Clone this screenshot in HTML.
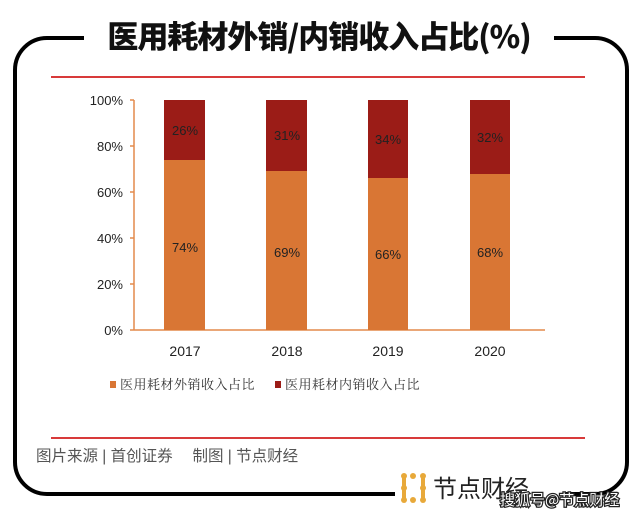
<!DOCTYPE html>
<html><head><meta charset="utf-8"><style>
body{margin:0;width:640px;height:515px;background:#fff;position:relative;overflow:hidden;font-family:"Liberation Sans","Noto Sans CJK SC",sans-serif}
.frame{position:absolute;left:13px;top:36px;width:608px;height:452px;border:4px solid #000;border-radius:34px;box-sizing:content-box}
.t{position:absolute;left:84px;top:10px;width:470px;height:50px;background:#fff;text-align:center;font-weight:900;font-size:31px;line-height:50px;color:#111;letter-spacing:-1px;font-family:"Noto Sans CJK SC",sans-serif}
.rl{position:absolute;left:51px;width:534px;height:2px;background:#d83a3a}
.gap{position:absolute;left:395px;top:465px;width:170px;height:50px;background:#fff}
</style></head><body>
<div class="frame"></div>
<div class="t">医用耗材外销/内销收入占比(%)</div>
<div class="rl" style="top:76px"></div>
<div class="rl" style="top:437px"></div>
<svg width="640" height="515" style="position:absolute;left:0;top:0" font-family="Liberation Sans, Noto Sans CJK SC, sans-serif">
<g stroke="#e38a4c" stroke-width="1.5">
<line x1="134" y1="100" x2="134" y2="330"/><line x1="134" y1="330" x2="545" y2="330"/>
<line x1="130" y1="100" x2="134" y2="100"/><line x1="130" y1="146" x2="134" y2="146"/><line x1="130" y1="192" x2="134" y2="192"/><line x1="130" y1="238" x2="134" y2="238"/><line x1="130" y1="284" x2="134" y2="284"/><line x1="130" y1="330" x2="134" y2="330"/>
</g>
<g font-size="13" fill="#222" text-anchor="end">
<text x="123" y="105">100%</text><text x="123" y="151">80%</text><text x="123" y="197">60%</text><text x="123" y="243">40%</text><text x="123" y="289">20%</text><text x="123" y="335">0%</text>
</g>
<g fill="#9b1c17"><rect x="164" y="100" width="41" height="60"/><rect x="266" y="100" width="41" height="71"/><rect x="368" y="100" width="40" height="78"/><rect x="470" y="100" width="40" height="74"/></g>
<g fill="#d97634"><rect x="164" y="160" width="41" height="170"/><rect x="266" y="171" width="41" height="159"/><rect x="368" y="178" width="40" height="152"/><rect x="470" y="174" width="40" height="156"/></g>
<g font-size="13" fill="#222" text-anchor="middle">
<text x="185" y="135">26%</text><text x="287" y="140">31%</text><text x="388" y="144">34%</text><text x="490" y="142">32%</text>
<text x="185" y="252">74%</text><text x="287" y="257">69%</text><text x="388" y="259">66%</text><text x="490" y="257">68%</text>
<text x="185" y="356" font-size="14">2017</text><text x="287" y="356" font-size="14">2018</text><text x="388" y="356" font-size="14">2019</text><text x="490" y="356" font-size="14">2020</text>
</g>
<rect x="110" y="381" width="6" height="7" fill="#d97634"/>
<text x="120" y="389" font-size="13" fill="#333" font-family="Noto Serif CJK SC, serif" letter-spacing="0.5">医用耗材外销收入占比</text>
<rect x="275" y="381" width="6" height="7" fill="#9b1c17"/>
<text x="285" y="389" font-size="13" fill="#333" font-family="Noto Serif CJK SC, serif" letter-spacing="0.5">医用耗材内销收入占比</text>
<text x="36" y="461" font-size="15.5" fill="#555">图片来源 | 首创证券　 制图 | 节点财经</text>
</svg>
<div class="gap"></div>
<svg width="640" height="515" style="position:absolute;left:0;top:0" font-family="Noto Sans CJK SC, sans-serif">
<g fill="#e8a93a"><circle cx="404" cy="476" r="3"/><circle cx="413" cy="476" r="3"/><circle cx="423" cy="476" r="3"/><circle cx="404" cy="488" r="3"/><circle cx="423" cy="488" r="3"/><circle cx="404" cy="500" r="3"/><circle cx="413" cy="500" r="3"/><circle cx="423" cy="500" r="3"/><rect x="402" y="476" width="4" height="24"/><rect x="421" y="476" width="4" height="24"/></g>
<text x="433" y="497" font-size="24" fill="#222">节点财经</text>
<text x="500" y="505" font-size="15" fill="#fff" stroke="#222" stroke-width="2.5" paint-order="stroke">搜狐号@节点财经</text>
</svg>
</body></html>
